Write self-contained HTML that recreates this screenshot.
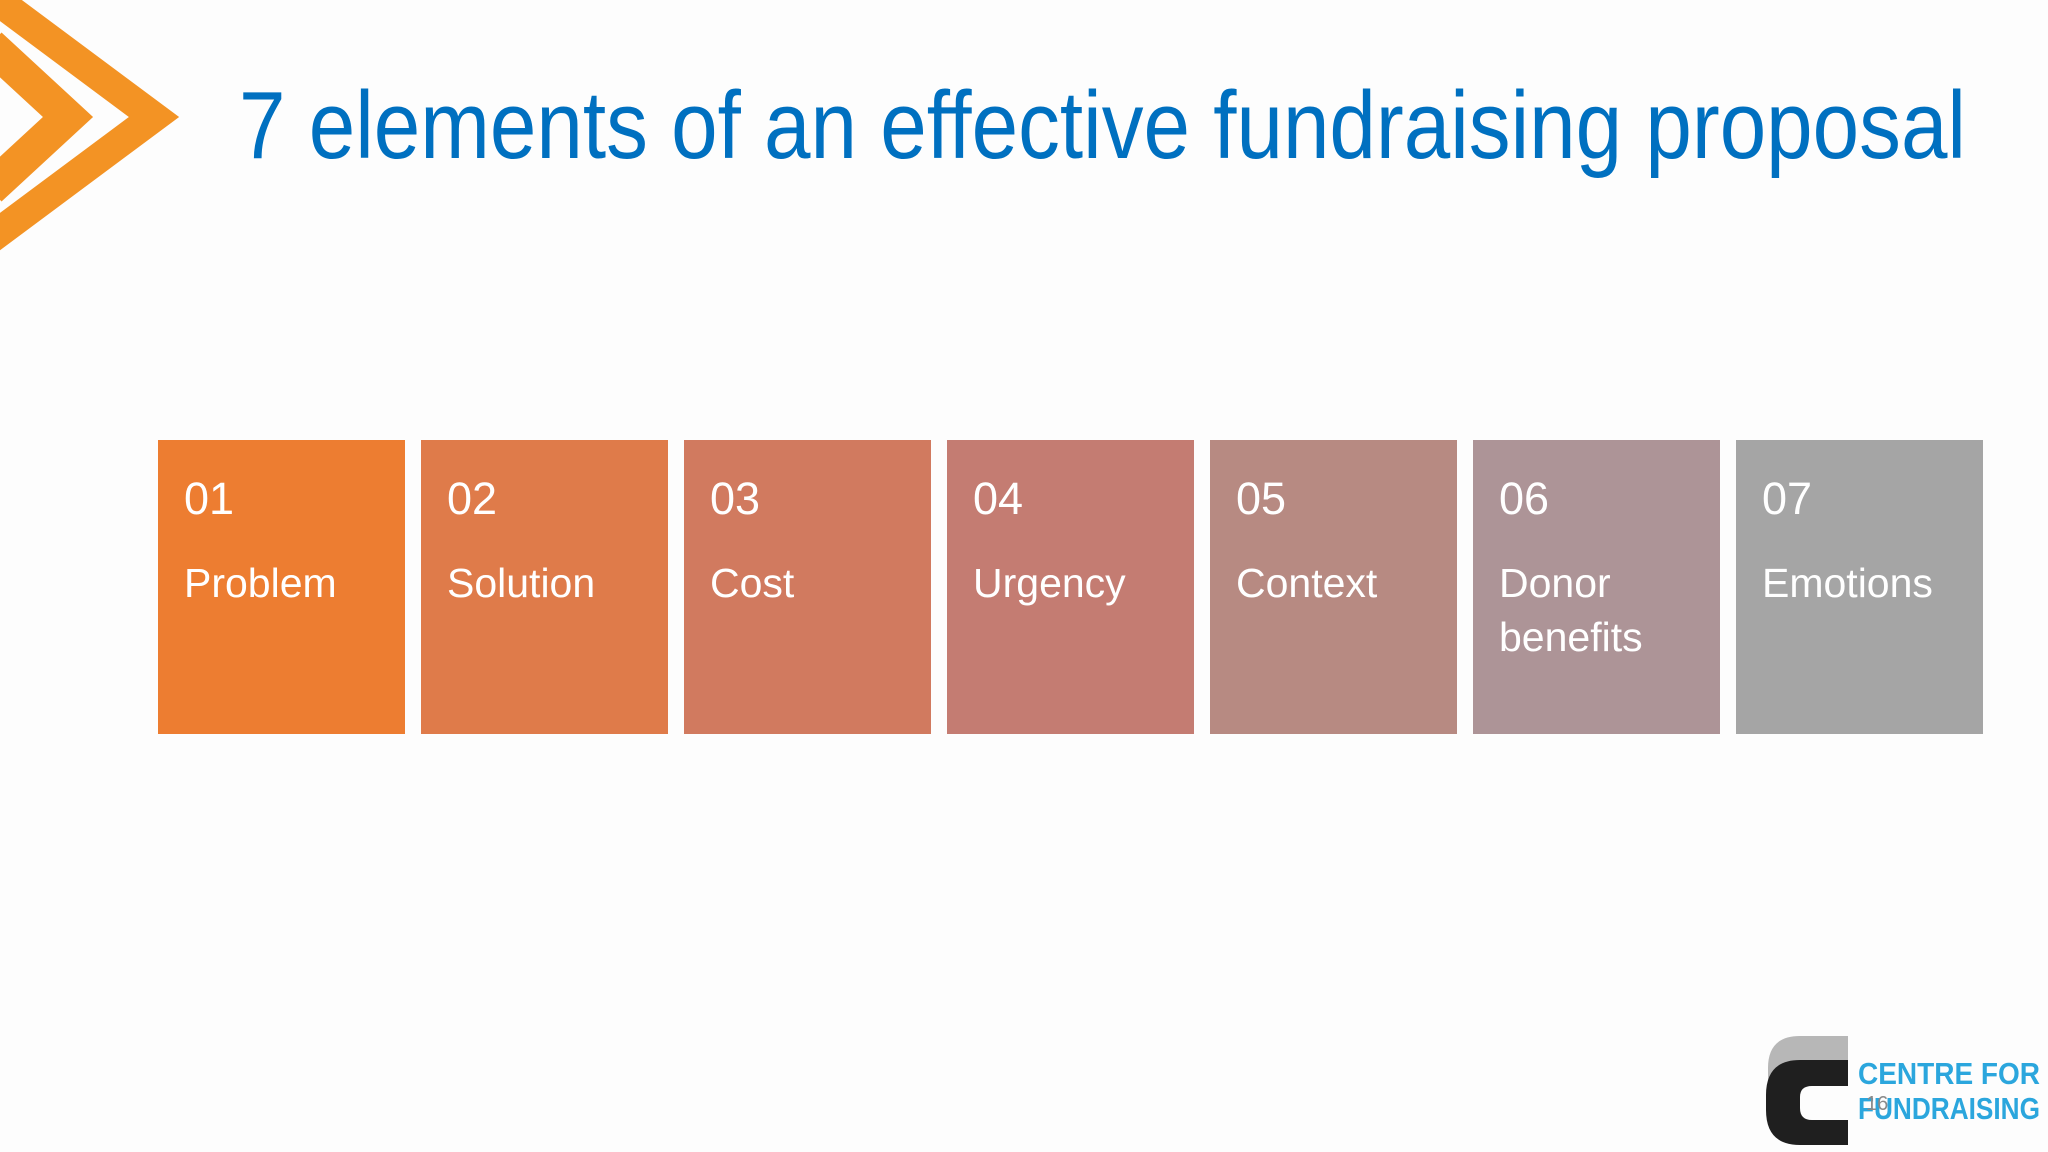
<!DOCTYPE html>
<html><head><meta charset="utf-8">
<style>
html,body{margin:0;padding:0;background:#fdfdfd;}
#slide{position:relative;width:2048px;height:1152px;overflow:hidden;background:#fdfdfd;font-family:"Liberation Sans",sans-serif;}
.box{position:absolute;top:440px;width:247px;height:294px;color:#fff;}
.num{position:absolute;left:26px;top:33px;font-size:45px;}
.lab{position:absolute;left:26px;top:116px;font-size:41px;line-height:54px;}
</style></head><body>
<div id="slide">
<svg width="2048" height="1152" style="position:absolute;left:0;top:0">
  <g fill="none" stroke="#F39324" stroke-width="30" stroke-linejoin="miter" stroke-miterlimit="10">
    <polyline points="-10,-5 154,117 -10,239"/>
    <polyline points="-10,45 68,117 -10,189" stroke-width="34"/>
  </g>
  <text x="239" y="158" font-size="96" fill="#0070C0" textLength="1727" lengthAdjust="spacingAndGlyphs">7 elements of an effective fundraising proposal</text>
  <g>
    <path d="M1848,1036 L1800,1036 Q1768,1036 1768,1068 L1768,1095 L1800,1095 L1800,1070 Q1800,1062 1808,1062 L1848,1062 Z" fill="#b7b7b7"/>
    <path d="M1848,1060 L1800,1060 Q1766,1060 1766,1095 L1766,1110 Q1766,1145 1800,1145 L1848,1145 L1848,1120 L1812,1120 Q1800,1120 1800,1108 L1800,1097 Q1800,1086 1812,1086 L1848,1086 Z" fill="#1f1f1f"/>
    <text x="1858" y="1084" font-size="31" font-weight="bold" fill="#2BA6DD" textLength="182" lengthAdjust="spacingAndGlyphs">CENTRE  FOR</text>
    <text x="1858" y="1119" font-size="31" font-weight="bold" fill="#2BA6DD" textLength="182" lengthAdjust="spacingAndGlyphs">FUNDRAISING</text>
    <text x="1866" y="1110" font-size="20" fill="#8a8a8a">16</text>
  </g>
</svg>
<div class="box" style="left:158px;background:#ED7D31"><div class="num">01</div><div class="lab">Problem</div></div>
<div class="box" style="left:421px;background:#DF7B4A"><div class="num">02</div><div class="lab">Solution</div></div>
<div class="box" style="left:684px;background:#D17A5F"><div class="num">03</div><div class="lab">Cost</div></div>
<div class="box" style="left:947px;background:#C47C72"><div class="num">04</div><div class="lab">Urgency</div></div>
<div class="box" style="left:1210px;background:#B78A82"><div class="num">05</div><div class="lab">Context</div></div>
<div class="box" style="left:1473px;background:#AD9497"><div class="num">06</div><div class="lab">Donor<br>benefits</div></div>
<div class="box" style="left:1736px;background:#A5A5A5"><div class="num">07</div><div class="lab">Emotions</div></div>
</div>
</body></html>
